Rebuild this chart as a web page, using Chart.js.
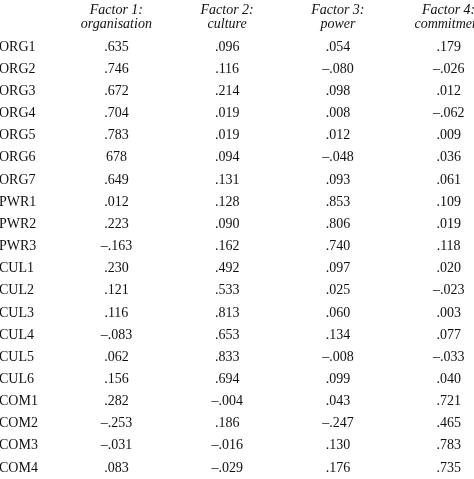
<!DOCTYPE html>
<html><head><meta charset="utf-8">
<script src="https://cdn.jsdelivr.net/npm/chart.js@4"></script>
<style>html,body{margin:0;padding:0;overflow:hidden;background:#fff}#w{position:absolute;left:-2px;top:0;width:506px;height:479px}</style>
</head><body><div id="w"><canvas id="c"></canvas></div>
<script>
const rows = ['ORG1','ORG2','ORG3','ORG4','ORG5','ORG6','ORG7','PWR1','PWR2','PWR3','CUL1','CUL2','CUL3','CUL4','CUL5','CUL6','COM1','COM2','COM3','COM4'];
const headers = [['Factor 1:','organisation'],['Factor 2:','culture'],['Factor 3:','power'],['Factor 4:','commitment']];
const factor1 = ['.635','.746','.672','.704','.783','678','.649','.012','.223','–.163','.230','.121','.116','–.083','.062','.156','.282','–.253','–.031','.083'];
const factor2 = ['.096','.116','.214','.019','.019','.094','.131','.128','.090','.162','.492','.533','.813','.653','.833','.694','–.004','.186','–.016','–.029'];
const factor3 = ['.054','–.080','.098','.008','.012','–.048','.093','.853','.806','.740','.097','.025','.060','.134','–.008','.099','.043','–.247','.130','.176'];
const factor4 = ['.179','–.026','.012','–.062','.009','.036','.061','.109','.019','.118','.020','–.023','.003','.077','–.033','.040','.721','.465','.783','.735'];
const factors = [factor1,factor2,factor3,factor4];
const cols = ['F1','F2','F3','F4'];

const datasets = factors.map((f,i)=>({
  data: f.map((v,j)=>({x: cols[i], y: rows[j], t: v})),
  pointRadius: 0, pointHoverRadius: 0
}));

const textPlugin = {
  id:'txt',
  afterDraw(chart){
    const ctx = chart.ctx;
    ctx.save();
    ctx.fillStyle = '#111';
    ctx.textAlign = 'center'; ctx.textBaseline = 'middle';
    ctx.font = '14px "Liberation Serif", "Times New Roman", serif';
    chart.data.datasets.forEach((ds,i)=>{
      chart.getDatasetMeta(i).data.forEach((el,j)=>{
        ctx.fillText(ds.data[j].t, el.x, el.y);
      });
    });
    const xs = chart.scales.x, ys = chart.scales.y;
    ctx.textAlign = 'left';
    rows.forEach(r=>ctx.fillText(r, 1, ys.getPixelForValue(r)));
    ctx.textAlign = 'center';
    ctx.font = 'italic 14px "Liberation Serif", "Times New Roman", serif';
    headers.forEach((h,i)=>{
      const x = xs.getPixelForValue(cols[i]);
      ctx.fillText(h[0], x, 10);
      ctx.fillText(h[1], x, 24);
    });
    ctx.restore();
  }
};

new Chart(document.getElementById('c'), {
  type:'scatter',
  data:{datasets},
  options:{
    responsive:true, maintainAspectRatio:false, animation:false,
    layout:{padding:0},
    plugins:{legend:{display:false}, tooltip:{enabled:false}},
    scales:{
      x:{type:'category', labels:cols, position:'top', offset:true,
         grid:{display:false}, border:{display:false}, ticks:{display:false},
         afterFit(s){s.height=36;}},
      y:{type:'category', labels:rows, offset:true,
         grid:{display:false}, border:{display:false}, ticks:{display:false},
         afterFit(s){s.width=63;}}
    }
  },
  plugins:[textPlugin]
});
</script></body></html>
